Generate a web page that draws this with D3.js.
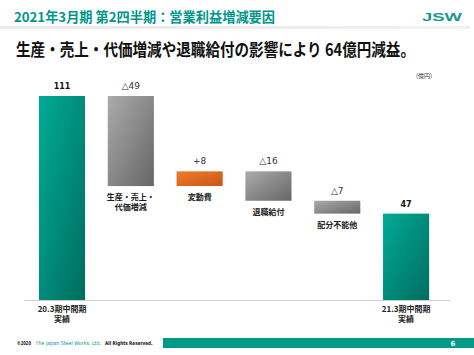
<!DOCTYPE html>
<html><head><meta charset="utf-8">
<script src="https://cdn.jsdelivr.net/npm/d3@7"></script>
<style>
html,body{margin:0;padding:0;background:#fff;}
svg{display:block;}
</style></head>
<body>
<svg id="chart" width="474" height="355"></svg>
<script>
const categories = ["20.3期中間期\n実績", "生産・売上・\n代価増減", "変動費", "退職給付", "配分不能他", "21.3期中間期\n実績"];
const values = [111, -49, 8, -16, -7, 47];
const kinds = ["total", "down", "up", "down", "down", "total"];
const valueLabels = ["111", "△49", "+8", "△16", "△7", "47"];

const svg = d3.select("#chart");
const JP = "'Noto Sans CJK JP', 'Noto Sans', sans-serif";
const teal = "#00978a";

// gradients
const defs = svg.append("defs");
function grad(id, c1, c2) {
  const g = defs.append("linearGradient").attr("id", id)
    .attr("x1", "0%").attr("y1", "0%").attr("x2", "100%").attr("y2", "100%");
  g.append("stop").attr("offset", "0%").attr("stop-color", c1);
  g.append("stop").attr("offset", "100%").attr("stop-color", c2);
}
grad("gTeal", "#00ab96", "#006d5f");
grad("gGray", "#ababab", "#666666");
grad("gOrange", "#ef7d2a", "#c85516");
grad("gLine", "#e6e6e6", "#f4f4f4");

// header
svg.append("text").attr("x", 14).attr("y", 22)
  .attr("font-family", JP).attr("font-weight", "bold").attr("font-size", 13.5)
  .attr("textLength", 261).attr("lengthAdjust", "spacingAndGlyphs")
  .attr("fill", teal).text("2021年3月期 第2四半期：営業利益増減要因");
svg.append("text").attr("x", 422).attr("y", 21)
  .attr("font-family", "'Liberation Sans', Arial, sans-serif").attr("font-weight", "bold")
  .attr("font-size", 11.5).attr("fill", "#1a9a8a")
  .attr("textLength", 40).attr("lengthAdjust", "spacingAndGlyphs").text("JSW");
svg.append("rect").attr("x", 0).attr("y", 26).attr("width", 470).attr("height", 3).attr("fill", "url(#gLine)");

svg.append("text").attr("x", 16).attr("y", 56)
  .attr("font-family", JP).attr("font-weight", "bold").attr("font-size", 16.5)
  .attr("textLength", 399).attr("lengthAdjust", "spacingAndGlyphs")
  .attr("fill", "#111").text("生産・売上・代価増減や退職給付の影響により 64億円減益。");

svg.append("text").attr("x", 424).attr("y", 78).attr("text-anchor", "middle")
  .attr("font-family", JP).attr("font-size", 6).attr("fill", "#333").text("(億円)");

// waterfall data
let run = 0;
const bars = values.map((v, i) => {
  let y0, y1;
  if (kinds[i] === "total") { y0 = 0; y1 = v; run = v; }
  else { y0 = run; y1 = run + v; run = y1; }
  return { cat: categories[i], lo: Math.min(y0, y1), hi: Math.max(y0, y1), kind: kinds[i], lab: valueLabels[i] };
});

const x = d3.scaleBand().domain(d3.range(categories.length)).range([25.2, 442.9]).paddingInner(0.33).paddingOuter(0.2);
const y = d3.scaleLinear().domain([0, 111]).range([300, 96]);

const fillFor = k => k === "total" ? "url(#gTeal)" : k === "up" ? "url(#gOrange)" : "url(#gGray)";

const g = svg.append("g");
g.selectAll("rect.bar").data(bars).join("rect").attr("class", "bar")
  .attr("x", (d, i) => x(i)).attr("width", x.bandwidth())
  .attr("y", d => y(d.hi)).attr("height", d => y(d.lo) - y(d.hi))
  .attr("fill", d => fillFor(d.kind));

// baseline axis
svg.append("line").attr("x1", 24).attr("x2", 450).attr("y1", y(0) + 0.5).attr("y2", y(0) + 0.5)
  .attr("stroke", "#cfcfcf").attr("stroke-width", 1);

// value labels
g.selectAll("text.val").data(bars).join("text").attr("class", "val")
  .attr("x", (d, i) => x(i) + x.bandwidth() / 2)
  .attr("y", d => y(d.hi) - 7)
  .attr("text-anchor", "middle")
  .attr("font-family", "'DejaVu Sans', sans-serif")
  .attr("font-weight", d => d.kind === "total" ? "bold" : "normal")
  .attr("font-size", d => d.kind === "total" ? 8 : 9)
  .attr("fill", d => d.kind === "total" ? "#111" : "#333")
  .text(d => d.lab);

// category labels
bars.forEach((d, i) => {
  const lines = d.cat.split("\n");
  const base = d.kind === "total" ? y(0) + 12 : y(d.lo) + 14;
  const t = g.append("text").attr("text-anchor", "middle")
    .attr("font-family", JP).attr("font-weight", "bold").attr("font-size", 8).attr("fill", "#222");
  lines.forEach((ln, j) => {
    t.append("tspan").attr("x", x(i) + x.bandwidth() / 2).attr("y", base + j * 10).text(ln);
  });
});

// footer
const footParts = [
  { t: "©2020", x: 17, w: 14, c: "#111", fw: "bold" },
  { t: "The Japan Steel Works, Ltd.", x: 35.5, w: 65.5, c: teal, fw: "normal" },
  { t: "All Rights Reserved.", x: 105, w: 47.7, c: "#111", fw: "bold" }
];
footParts.forEach(p => {
  svg.append("text").attr("x", p.x).attr("y", 345)
    .attr("font-family", "'DejaVu Sans', sans-serif").attr("font-weight", p.fw).attr("font-size", 5.3)
    .attr("textLength", p.w).attr("lengthAdjust", "spacingAndGlyphs").attr("fill", p.c).text(p.t);
});
svg.append("rect").attr("x", 163).attr("y", 338).attr("width", 311).attr("height", 10).attr("fill", "#00998a");
svg.append("text").attr("x", 453).attr("y", 346).attr("text-anchor", "middle")
  .attr("font-family", "'DejaVu Sans', sans-serif").attr("font-weight", "bold").attr("font-size", 7)
  .attr("fill", "#fff").text("6");
</script>
</body></html>
